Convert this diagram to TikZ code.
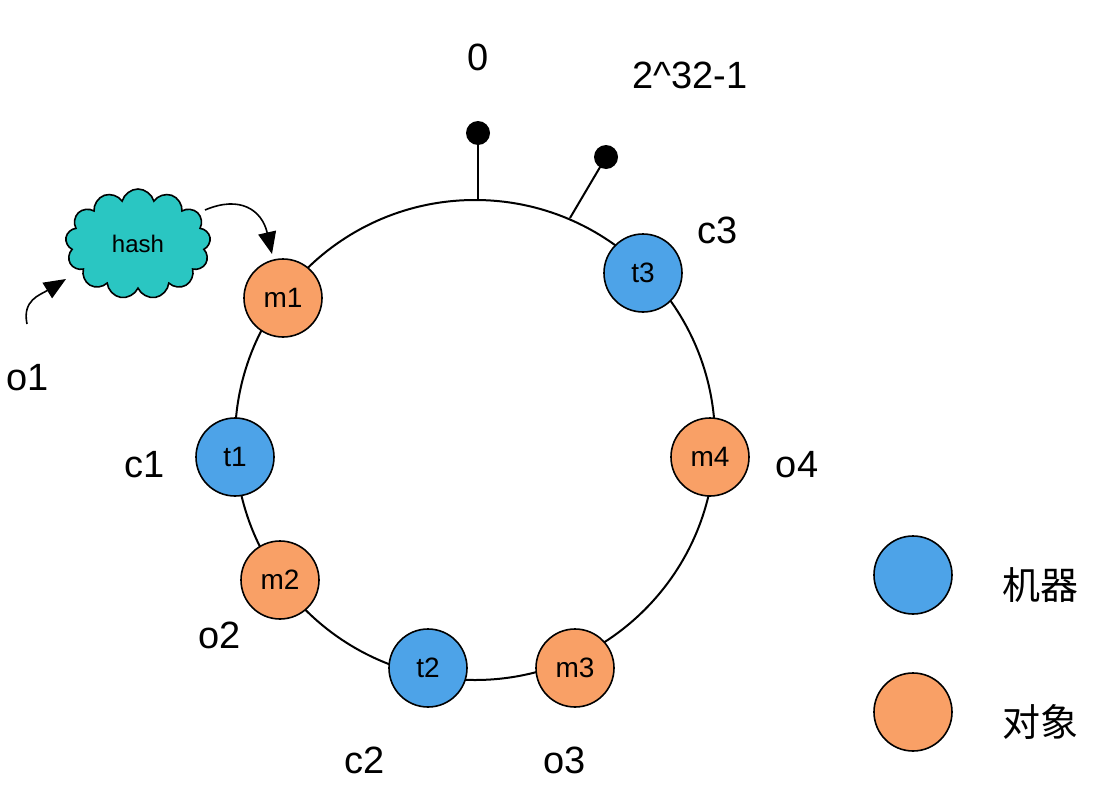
\documentclass[tikz,border=0pt]{standalone}
\usepackage{fontspec}
\setmainfont{Liberation Sans}
\newfontfamily\cjk{Noto Sans CJK SC}
\usetikzlibrary{shapes.symbols,arrows.meta}
\definecolor{org}{HTML}{F9A066}
\definecolor{blu}{HTML}{4DA3E8}
\definecolor{teal}{HTML}{2AC6C2}
\begin{document}
\begin{tikzpicture}[x=1pt,y=-1pt,line width=2pt,
  dotn/.style={circle,draw=black,line width=1.6pt,minimum size=78pt,inner sep=0pt,font=\fontsize{28}{30}\selectfont},
  obj/.style={dotn,fill=org},
  mac/.style={dotn,fill=blu},
  lab/.style={font=\fontsize{38}{40}\selectfont},
  arr/.style={-{Triangle[length=22pt,width=18pt]},line width=1.6pt}]
\useasboundingbox (0,0) rectangle (1106,798);
\fill[white] (0,0) rectangle (1106,798);
\coordinate (c) at (475,440);
\draw (c) circle (240);
\coordinate (p0) at (478,200);
\coordinate (p1) at (570,218);
\node[circle,fill=black,inner sep=0pt,minimum size=24pt] (d0) at (478,133) {};
\node[circle,fill=black,inner sep=0pt,minimum size=24pt] (d1) at (606,157) {};
\draw (p0) -- (d0.center);
\draw (p1) -- (d1.center);
\node[lab] (l0) at (478,57) {0};
\node[lab] (l1) at (690,75) {2\^{}32-1};
\node[obj] (m1) at (283,298) {m1};
\node[mac] (t1) at (235,457) {t1};
\node[obj] (m2) at (280,580) {m2};
\node[mac] (t2) at (428,668) {t2};
\node[obj] (m3) at (575,668) {m3};
\node[obj] (m4) at (710,457) {m4};
\node[mac] (t3) at (643,273) {t3};
\node[mac] (g1) at (913,575) {};
\node[obj] (g2) at (913,712) {};
\node[lab] at (718,230) {c3};
\node[lab] (o1) at (28,378) {o1};
\node[lab] at (145,465) {c1};
\node[lab] at (797,465) {o4};
\node[lab] at (220,635) {o2};
\node[lab] at (365,760) {c2};
\node[lab] at (565,760) {o3};
\node[font=\cjk\fontsize{38}{40}\selectfont] at (1040,585) {机器};
\node[font=\cjk\fontsize{38}{40}\selectfont] at (1040,722) {对象};
\node[cloud,cloud puffs=13,aspect=1.4,draw=black,line width=1.6pt,fill=teal,minimum width=145pt,minimum height=110pt,font=\fontsize{24}{26}\selectfont] (h) at (138,244) {hash};
\coordinate (s) at (27,324);
\draw[arr] (s) .. controls (22,300) and (40,295) .. (66,279);
\draw[arr] (205,210) .. controls (240,195) and (262,210) .. (272,254);
\end{tikzpicture}
\end{document}
